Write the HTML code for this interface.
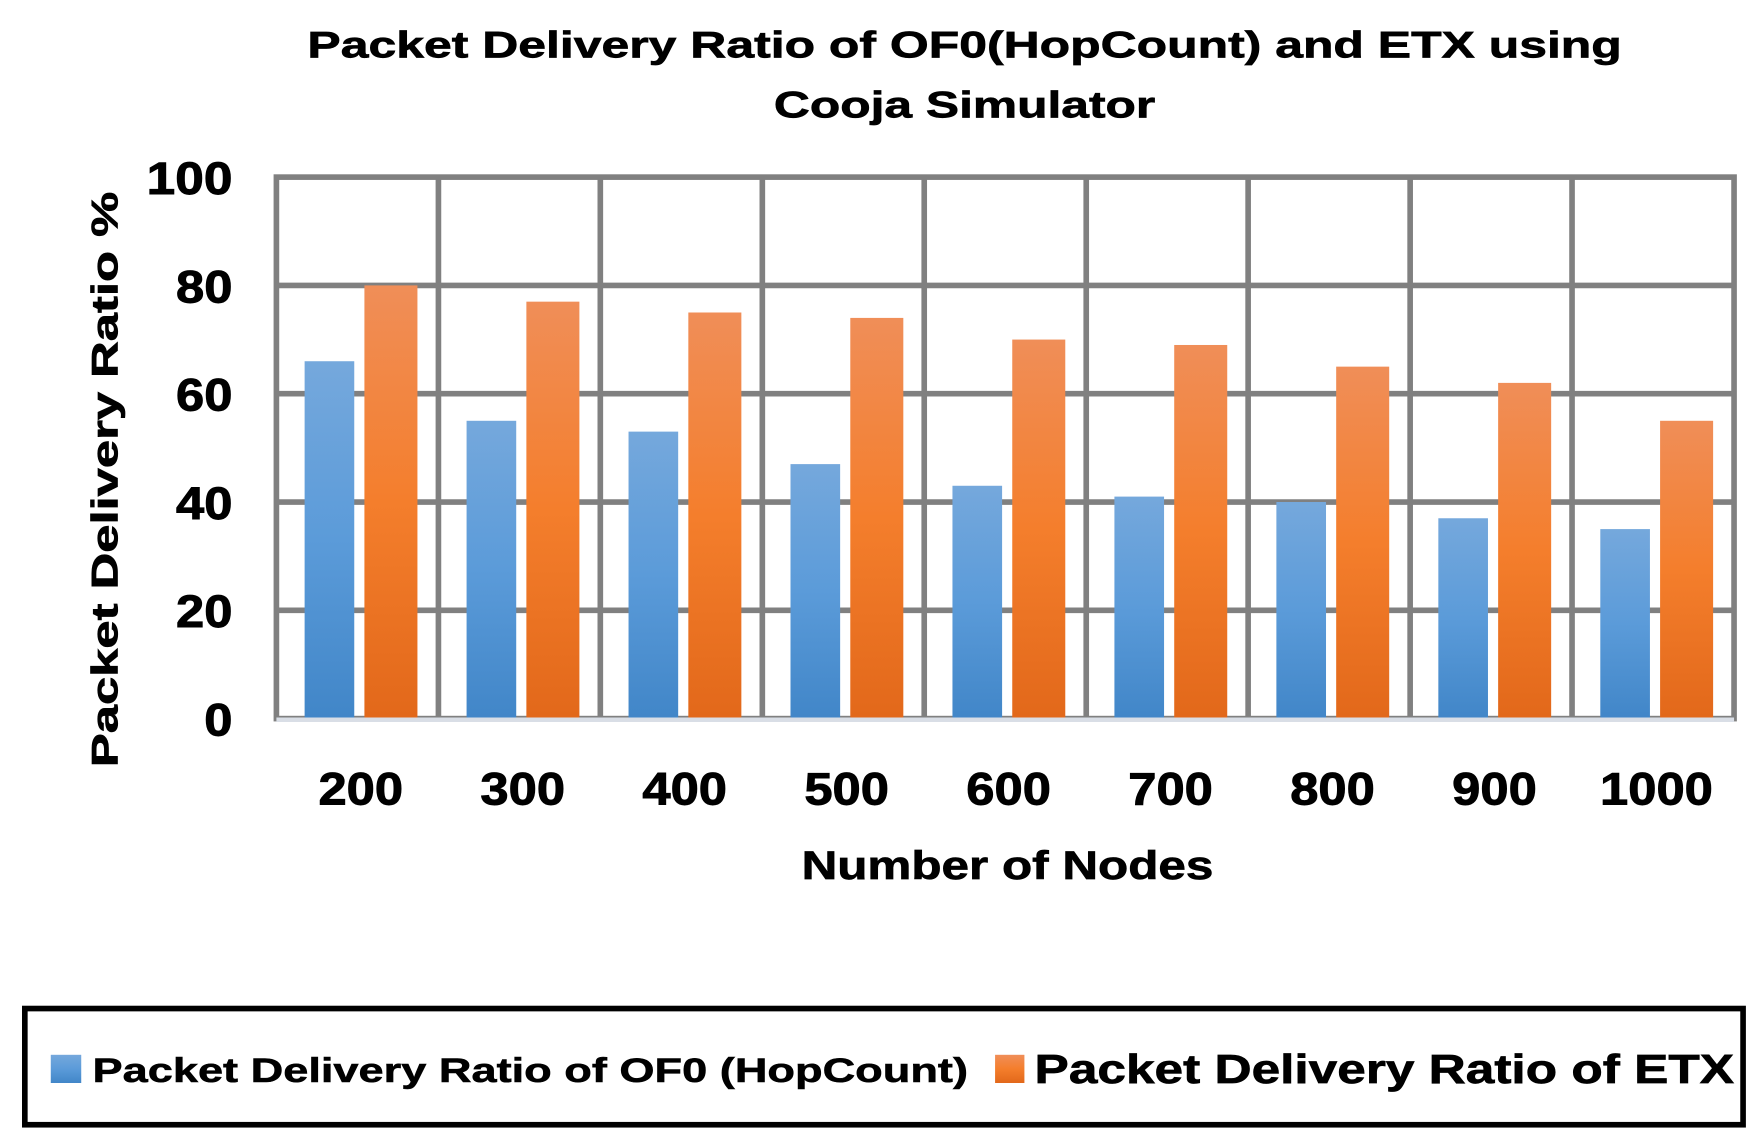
<!DOCTYPE html>
<html><head><meta charset="utf-8"><style>
html,body{margin:0;padding:0;background:#fff;}
svg{display:block;}
text{font-family:"Liberation Sans",Arial,sans-serif;font-weight:bold;fill:#000;}
</style></head><body>
<svg width="1760" height="1142" viewBox="0 0 1560 1012.3" preserveAspectRatio="none" xmlns="http://www.w3.org/2000/svg">
<defs>
<linearGradient id="gb" x1="0" y1="0" x2="0" y2="1"><stop offset="0" stop-color="#75a8dc"/><stop offset="0.5" stop-color="#5b9bd9"/><stop offset="1" stop-color="#4186c8"/></linearGradient>
<linearGradient id="go" x1="0" y1="0" x2="0" y2="1"><stop offset="0" stop-color="#f08e58"/><stop offset="0.5" stop-color="#f47e2c"/><stop offset="1" stop-color="#e2681a"/></linearGradient>
</defs>
<text x="855" y="51" font-size="33" text-anchor="middle" textLength="1165" lengthAdjust="spacingAndGlyphs" stroke="#000" stroke-width="0.6">Packet Delivery Ratio of OF0(HopCount) and ETX using</text>
<text x="855" y="104" font-size="33" text-anchor="middle" textLength="338" lengthAdjust="spacingAndGlyphs" stroke="#000" stroke-width="0.6">Cooja Simulator</text>
<g stroke="#808080" stroke-width="5" fill="none">
<rect x="245" y="157" width="1292" height="480"/>
<line x1="245" y1="253" x2="1537" y2="253"/>
<line x1="245" y1="349" x2="1537" y2="349"/>
<line x1="245" y1="445" x2="1537" y2="445"/>
<line x1="245" y1="541" x2="1537" y2="541"/>
<line x1="388.6" y1="157" x2="388.6" y2="637"/>
<line x1="532.1" y1="157" x2="532.1" y2="637"/>
<line x1="675.7" y1="157" x2="675.7" y2="637"/>
<line x1="819.2" y1="157" x2="819.2" y2="637"/>
<line x1="962.8" y1="157" x2="962.8" y2="637"/>
<line x1="1106.3" y1="157" x2="1106.3" y2="637"/>
<line x1="1249.9" y1="157" x2="1249.9" y2="637"/>
<line x1="1393.4" y1="157" x2="1393.4" y2="637"/>
</g>
<g id="bars"></g>
<line x1="245" y1="638" x2="1537" y2="638" stroke="#d9dee6" stroke-width="4"/>
<g font-size="40" text-anchor="end" stroke="#000" stroke-width="0.8">
<text x="206" y="172" textLength="76" lengthAdjust="spacingAndGlyphs">100</text><text x="206" y="268" textLength="50" lengthAdjust="spacingAndGlyphs">80</text><text x="206" y="364" textLength="50" lengthAdjust="spacingAndGlyphs">60</text><text x="206" y="460" textLength="50" lengthAdjust="spacingAndGlyphs">40</text><text x="206" y="556" textLength="50" lengthAdjust="spacingAndGlyphs">20</text><text x="206" y="652" textLength="25" lengthAdjust="spacingAndGlyphs">0</text>
</g>
<g font-size="40" text-anchor="middle" id="xl" stroke="#000" stroke-width="0.8"></g>
<text x="893" y="779" font-size="35" text-anchor="middle" textLength="365" lengthAdjust="spacingAndGlyphs" stroke="#000" stroke-width="0.6">Number of Nodes</text>
<text transform="translate(104,425) rotate(-90)" font-size="33" text-anchor="middle" textLength="510" lengthAdjust="spacingAndGlyphs" stroke="#000" stroke-width="0.6">Packet Delivery Ratio %</text>
<rect x="22" y="894" width="1523" height="103" fill="none" stroke="#000" stroke-width="5"/>
<rect x="45" y="935" width="27" height="25" fill="url(#gb)"/>
<text x="82" y="959" font-size="30" textLength="776" lengthAdjust="spacingAndGlyphs" stroke="#000" stroke-width="0.5">Packet Delivery Ratio of  OF0 (HopCount)</text>
<rect x="882" y="935" width="26" height="25" fill="url(#go)"/>
<text x="917" y="960" font-size="36" textLength="620" lengthAdjust="spacingAndGlyphs" stroke="#000" stroke-width="0.6">Packet Delivery Ratio  of ETX</text>
<script>
var b=[66,55,53,47,43,41,40,37,35],o=[80,77,75,74,70,69,65,62,55],labs=["200","300","400","500","600","700","800","900","1000"];
var g=document.getElementById('bars'),xl=document.getElementById('xl'),ns="http://www.w3.org/2000/svg",w=1292/9;
for(var i=0;i<9;i++){var x0=245+i*w;
function r(x,v,wd,f){var e=document.createElementNS(ns,'rect');var h=v*4.8;e.setAttribute('x',x);e.setAttribute('y',637-h);e.setAttribute('width',wd);e.setAttribute('height',h);e.setAttribute('fill',f);g.appendChild(e);}
r(x0+25,b[i],44,'url(#gb)');r(x0+78,o[i],47,'url(#go)');
var t=document.createElementNS(ns,'text');t.setAttribute('x',x0+w/2+3);t.setAttribute('y',713);t.setAttribute('textLength',i==8?100:75);t.setAttribute('lengthAdjust','spacingAndGlyphs');t.textContent=labs[i];xl.appendChild(t);}
</script>
</svg>
</body></html>
